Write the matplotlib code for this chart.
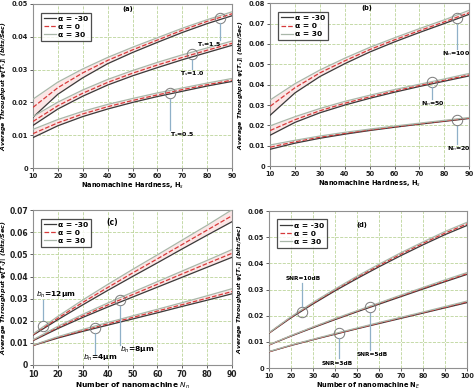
import matplotlib
matplotlib.use("Agg")
import matplotlib.pyplot as plt

# ---------------- data ----------------
alphas = ["α = -30", "α = 0", "α = 30"]

hs = [10, 20, 30, 40, 50, 60, 70, 80, 90]          # panels a, b
nn_c = [10, 20, 30, 40, 50, 60, 70, 80, 90]        # panel c
nn_d = [10, 20, 30, 40, 50, 60, 70, 80, 90, 100]   # panel d

# (a) Ts = 1.5, 1.0, 0.5 ; each: alpha -30, 0, 30
a_ts15 = [[0.0155, 0.0225, 0.0275, 0.0318, 0.0352, 0.0383, 0.0413, 0.0440, 0.0464],
          [0.0185, 0.0245, 0.0290, 0.0328, 0.0360, 0.0390, 0.0420, 0.0447, 0.0470],
          [0.0210, 0.0262, 0.0302, 0.0337, 0.0368, 0.0397, 0.0426, 0.0452, 0.0476]]
a_ts10 = [[0.0130, 0.0180, 0.0219, 0.0253, 0.0281, 0.0306, 0.0330, 0.0352, 0.0374],
          [0.0142, 0.0190, 0.0228, 0.0261, 0.0289, 0.0314, 0.0337, 0.0359, 0.0380],
          [0.0157, 0.0201, 0.0238, 0.0270, 0.0297, 0.0322, 0.0345, 0.0366, 0.0387]]
a_ts05 = [[0.0093, 0.0129, 0.0157, 0.0180, 0.0200, 0.0218, 0.0234, 0.0250, 0.0264],
          [0.0105, 0.0138, 0.0165, 0.0187, 0.0206, 0.0223, 0.0239, 0.0254, 0.0268],
          [0.0118, 0.0148, 0.0173, 0.0194, 0.0212, 0.0229, 0.0244, 0.0259, 0.0273]]

# (b) Nn = 100, 50, 20
b_n100 = [[0.0250, 0.0360, 0.0440, 0.0503, 0.0560, 0.0610, 0.0656, 0.0700, 0.0745],
          [0.0294, 0.0385, 0.0458, 0.0517, 0.0572, 0.0620, 0.0665, 0.0708, 0.0753],
          [0.0325, 0.0405, 0.0472, 0.0530, 0.0583, 0.0630, 0.0675, 0.0718, 0.0765]]
b_n50 = [[0.0152, 0.0215, 0.0262, 0.0300, 0.0333, 0.0363, 0.0391, 0.0417, 0.0443],
         [0.0175, 0.0228, 0.0272, 0.0309, 0.0340, 0.0369, 0.0396, 0.0422, 0.0448],
         [0.0198, 0.0243, 0.0283, 0.0318, 0.0348, 0.0376, 0.0402, 0.0428, 0.0455]]
b_n20 = [[0.0083, 0.0113, 0.0137, 0.0157, 0.0175, 0.0191, 0.0206, 0.0220, 0.0234],
         [0.0093, 0.0120, 0.0142, 0.0161, 0.0178, 0.0193, 0.0208, 0.0222, 0.0236],
         [0.0104, 0.0127, 0.0148, 0.0166, 0.0182, 0.0197, 0.0211, 0.0225, 0.0239]]

# (c) bn = 12um, 8um, 4um
c_b12 = [[0.0135, 0.0205, 0.0272, 0.0337, 0.0400, 0.0462, 0.0525, 0.0587, 0.0648],
         [0.0137, 0.0212, 0.0283, 0.0350, 0.0416, 0.0480, 0.0545, 0.0610, 0.0675],
         [0.0140, 0.0220, 0.0294, 0.0364, 0.0432, 0.0498, 0.0565, 0.0632, 0.0702]]
c_b8 = [[0.0110, 0.0165, 0.0215, 0.0262, 0.0307, 0.0352, 0.0397, 0.0442, 0.0487],
        [0.0112, 0.0170, 0.0222, 0.0271, 0.0318, 0.0365, 0.0412, 0.0459, 0.0505],
        [0.0114, 0.0175, 0.0229, 0.0280, 0.0329, 0.0377, 0.0425, 0.0473, 0.0522]]
c_b4 = [[0.0088, 0.0122, 0.0152, 0.0180, 0.0208, 0.0236, 0.0265, 0.0293, 0.0322],
        [0.0089, 0.0125, 0.0156, 0.0186, 0.0215, 0.0244, 0.0273, 0.0302, 0.0332],
        [0.0090, 0.0128, 0.0161, 0.0192, 0.0222, 0.0252, 0.0282, 0.0313, 0.0345]]

# (d) SNR = 10dB, 5dB, 3dB
d_snr10 = [[0.0133, 0.0192, 0.0245, 0.0295, 0.0342, 0.0387, 0.0430, 0.0471, 0.0510, 0.0545],
           [0.0134, 0.0194, 0.0248, 0.0299, 0.0347, 0.0392, 0.0436, 0.0477, 0.0516, 0.0551],
           [0.0135, 0.0196, 0.0251, 0.0302, 0.0351, 0.0397, 0.0441, 0.0482, 0.0522, 0.0557]]
d_snr5 = [[0.0088, 0.0122, 0.0154, 0.0185, 0.0215, 0.0244, 0.0273, 0.0302, 0.0330, 0.0358],
          [0.0088, 0.0123, 0.0156, 0.0187, 0.0217, 0.0247, 0.0276, 0.0305, 0.0333, 0.0361],
          [0.0089, 0.0124, 0.0157, 0.0189, 0.0219, 0.0249, 0.0279, 0.0308, 0.0337, 0.0365]]
d_snr3 = [[0.0062, 0.0086, 0.0108, 0.0129, 0.0150, 0.0170, 0.0190, 0.0210, 0.0230, 0.0250],
          [0.0062, 0.0087, 0.0109, 0.0130, 0.0151, 0.0172, 0.0192, 0.0212, 0.0232, 0.0253],
          [0.0063, 0.0088, 0.0110, 0.0132, 0.0153, 0.0174, 0.0194, 0.0214, 0.0235, 0.0256]]

# annotations: (circle x, circle y, text x, text y, text)
a_notes = [(85, 0.0458, 81, 0.0375, "T$_s$=1.5"),
           (74, 0.0347, 74, 0.0287, "T$_s$=1.0"),
           (65, 0.0228, 70, 0.0101, "T$_s$=0.5")]
b_notes = [(85, 0.0728, 84.5, 0.0552, "N$_n$=100"),
           (75, 0.0415, 75.5, 0.0307, "N$_n$=50"),
           (85, 0.0226, 86, 0.0087, "N$_n$=20")]
c_notes = [(14, 0.0178, 19, 0.0316, "$b_n$=12μm"),
           (35, 0.0168, 37, 0.0030, "$b_n$=4μm"),
           (45, 0.0292, 52, 0.0068, "$b_n$=8μm")]
d_notes = [(25, 0.0215, 25.5, 0.0343, "SNR=10dB"),
           (42, 0.0135, 40.8, 0.0019, "SNR=3dB"),
           (56, 0.0232, 57, 0.0051, "SNR=5dB")]

line_colors = ["#3a3a3a", "#d63a3a", "#a9b7a9"]
line_styles = ["-", "--", "-"]
grid_color = "#bcd49a"
note_color = "#8fb0c8"


def draw_panel(ax, x, groups, notes, xlim, ylim, yticks, xticks, xlabel, tag,
               tag_xy, fs, lab_fs, yl_fs, note_fs, yl_x):
    for g in groups:
        ax.fill_between(x, g[0], g[2], color="#fbe6e6", lw=0, zorder=1)
        for k in range(3):
            ax.plot(x, g[k], color=line_colors[k], ls=line_styles[k],
                    lw=0.9, label=alphas[k] if g is groups[0] else None, zorder=3)
    span = ylim[1] - ylim[0]
    for cx, cy, tx, ty, txt in notes:
        ax.plot([cx], [cy], marker="o", ms=7.5, mfc="none", mec="#7a7a7a",
                mew=0.7, zorder=4)
        sgn = 1 if ty > cy else -1
        ax.plot([cx, cx], [cy + sgn * span * 0.035, ty - sgn * span * 0.03],
                color=note_color, lw=0.9, zorder=4)
        ax.text(tx, ty, txt, fontsize=note_fs, fontweight="bold",
                ha="center", va="center", zorder=5)
    ax.set_xlim(*xlim)
    ax.set_ylim(*ylim)
    ax.set_xticks(xticks)
    ax.set_yticks(yticks)
    ax.set_yticklabels(["0" if v == 0 else f"{v:.2f}" for v in yticks])
    ax.grid(True, color=grid_color, ls="--", lw=0.6)
    ax.set_axisbelow(True)
    for s in ax.spines.values():
        s.set_color("#909090")
        s.set_linewidth(0.8)
    ax.tick_params(labelsize=fs, length=2, width=0.5, pad=1.5, colors="#202020")
    for lab in ax.get_xticklabels() + ax.get_yticklabels():
        lab.set_fontweight("bold")
    ax.set_xlabel(xlabel, fontsize=lab_fs, fontweight="bold", labelpad=1.5)
    ax.set_ylabel("Average Throughput ψ[T$_s$]| (bits/Sec)", fontsize=yl_fs,
                  fontweight="bold", style="italic")
    ax.yaxis.set_label_coords(yl_x, 0.5)
    ax.text(tag_xy[0], tag_xy[1], tag, fontsize=fs, fontweight="bold",
            ha="center", va="center")
    leg = ax.legend(loc="upper left", fontsize=5.4, frameon=True,
                    fancybox=False, borderpad=0.4, handlelength=1.6,
                    handletextpad=0.3, labelspacing=0.25,
                    bbox_to_anchor=(0.02, 0.97))
    leg.get_frame().set_edgecolor("#222222")
    leg.get_frame().set_linewidth(0.9)
    for t in leg.get_texts():
        t.set_fontweight("bold")


fig = plt.figure(figsize=(4.74, 3.91), dpi=100)
ax_a = fig.add_axes([0.0696, 0.570, 0.420, 0.420])
ax_b = fig.add_axes([0.570, 0.575, 0.420, 0.417])
ax_c = fig.add_axes([0.0696, 0.0665, 0.420, 0.396])
ax_d = fig.add_axes([0.5675, 0.0588, 0.418, 0.4015])

draw_panel(ax_a, hs, [a_ts15, a_ts10, a_ts05], a_notes, (10, 90), (0, 0.05),
           [0, 0.01, 0.02, 0.03, 0.04, 0.05], hs,
           "Nanomachine Hardness, H$_s$", "(a)", (48, 0.0485),
           4.8, 4.8, 4.4, 4.5, -0.125)
draw_panel(ax_b, hs, [b_n100, b_n50, b_n20], b_notes, (10, 90), (0, 0.08),
           [0, 0.01, 0.02, 0.03, 0.04, 0.05, 0.06, 0.07, 0.08], hs,
           "Nanomachine Hardness, H$_s$", "(b)", (49, 0.0775),
           4.8, 4.8, 4.4, 4.5, -0.125)
draw_panel(ax_c, nn_c, [c_b12, c_b8, c_b4], c_notes, (10, 90), (0, 0.07),
           [0, 0.01, 0.02, 0.03, 0.04, 0.05, 0.06, 0.07], nn_c,
           "Number of nanomachine $N_n$", "(c)", (42, 0.0645),
           5.5, 5.3, 4.6, 5.4, -0.125)
draw_panel(ax_d, nn_d, [d_snr10, d_snr5, d_snr3], d_notes, (10, 100), (0, 0.06),
           [0, 0.01, 0.02, 0.03, 0.04, 0.05, 0.06], nn_d,
           "Number of nanomachine N$_E$", "(d)", (52, 0.0545),
           4.8, 4.8, 4.4, 4.2, -0.125)

plt.savefig("out.png", dpi=100)
